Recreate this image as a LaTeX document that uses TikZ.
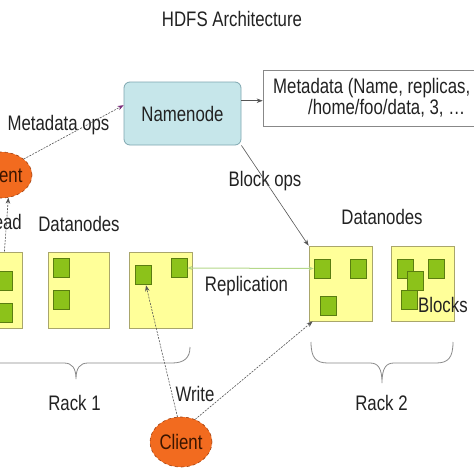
\documentclass[tikz,border=0pt]{standalone}
\usepackage{fontspec}
\setmainfont{Liberation Sans}[FakeStretch=0.8]
\usetikzlibrary{arrows.meta,calc,shapes.geometric}
\definecolor{nnfill}{HTML}{C6E6EA}
\definecolor{nndraw}{HTML}{7FA7B0}
\definecolor{dnfill}{HTML}{FFFF99}
\definecolor{dndraw}{HTML}{A9A66B}
\definecolor{blkfill}{HTML}{8CC21A}
\definecolor{blkdraw}{HTML}{5A7D10}
\definecolor{clfill}{HTML}{F26B1F}
\definecolor{cldraw}{HTML}{A04010}
\definecolor{cltext}{HTML}{3B1500}
\definecolor{txt}{HTML}{222222}
\definecolor{lnk}{HTML}{555555}
\definecolor{repl}{HTML}{B5D88A}
\definecolor{tipmag}{HTML}{7B2D7B}
\definecolor{brc}{HTML}{8A8A8A}
\begin{document}
\begin{tikzpicture}[x=1pt,y=-1pt,
  font=\fontsize{21}{25}\selectfont, text=txt,
  lbl/.style={inner sep=0pt, anchor=base},
  namebox/.style={draw=nndraw, fill=nnfill, rounded corners=6pt, line width=0.8pt,
    minimum width=117pt, minimum height=63pt, inner sep=0pt},
  metabox/.style={draw=lnk!70, fill=white, line width=0.7pt, inner sep=0pt,
    minimum width=227pt, minimum height=56pt},
  dnbox/.style={draw=dndraw, fill=dnfill, line width=0.8pt, inner sep=0pt,
    minimum height=76pt},
  blk/.style={draw=blkdraw, fill=blkfill, line width=0.7pt, inner sep=0pt,
    minimum width=16pt, minimum height=19pt},
  client/.style={ellipse, draw=cldraw, dashed, fill=clfill, line width=0.6pt,
    inner sep=0pt, minimum width=62pt, text=cltext},
  link/.style={draw=lnk, line width=0.6pt, dash pattern=on 2pt off 1.2pt},
  solidlink/.style={draw=lnk, line width=0.6pt},
  tip/.style={-{Stealth[length=6pt,width=4.5pt]}},
  replline/.style={draw=repl, line width=1pt,
    {Stealth[length=5pt,width=4pt]}-{Stealth[length=5pt,width=4pt]}},
  bracepath/.style={draw=brc, line width=0.8pt}
]
\path[use as bounding box] (0,0) rectangle (474,474);
\clip (0,0) rectangle (474,474);
\fill[white] (0,0) rectangle (474,474);

% title
\node[lbl] (title) at (232,26) {HDFS Architecture};

% namenode and metadata
\node[namebox] (nn) at (182.5,113.5) {Namenode};
\node[metabox] (mb) at (376.5,98) {};
\node[lbl, anchor=base west] (mt1) at (273,93) {Metadata (Name, replicas,};
\node[lbl, anchor=base west] (mt2) at (308,114) {/home/foo/data, 3, \dots};
\coordinate (nnout) at ($(nn.north east)!0.3!(nn.south east)$);
\draw[solidlink, tip] (nnout) -- (mb.west |- nnout);

% clients
\node[client, minimum height=46pt] (cl2) at (1,175) {Client};
\node[client, minimum height=50pt] (cl) at (181,442) {Client};

% datanodes
\node[dnbox, minimum width=63pt] (dA) at (-9.5,290) {};
\node[dnbox, minimum width=61pt] (dB) at (78.5,290) {};
\node[dnbox, minimum width=63pt] (dC) at (160.5,290) {};
\node[dnbox, minimum width=63pt, minimum height=75pt] (dD) at (340.5,283.5) {};
\node[dnbox, minimum width=63pt, minimum height=75pt] (dE) at (422.5,283.5) {};

% blocks
\node[blk] (a1) at (4,280.5) {};
\node[blk] (a2) at (4,312.5) {};
\node[blk] (b1) at (61,268) {};
\node[blk] (b2) at (61,300) {};
\node[blk] (c1) at (143,274.5) {};
\node[blk] (c2) at (179,268) {};
\node[blk] (d1) at (322,268.5) {};
\node[blk] (d2) at (358.5,268.5) {};
\node[blk] (d3) at (328,306) {};
\node[blk] (e1) at (405,268.5) {};
\node[blk] (e2) at (436,268.5) {};
\node[blk] (e3) at (415.5,280.5) {};
\node[blk] (e4) at (409.5,300) {};

% labels
\node[lbl] (lmo) at (58.5,130) {Metadata ops};
\node[lbl] (ldn1) at (79,231) {Datanodes};
\node[lbl, anchor=base east] (lread) at (22,229) {Read};
\node[lbl] (lbo) at (265,186) {Block ops};
\node[lbl] (ldn2) at (382,224) {Datanodes};
\node[lbl] (lrep) at (246.5,291) {Replication};
\node[lbl, anchor=base west] (lblk) at (418,312) {Blocks};
\node[lbl] (lwr) at (195,401) {Write};
\node[lbl] (lr1) at (74.5,410) {Rack 1};
\node[lbl] (lr2) at (381.5,410) {Rack 2};

% connectors
\draw[link, -{Stealth[length=6pt,width=4.5pt,color=tipmag]}] (cl2.35) -- (nn.172);
\draw[link, tip] ($(dA.north east)+(-18,0)$) -- (cl2.-72);
\draw[solidlink, tip] (nn.south east) -- (dD.north west);
\draw[replline] (c2.east) -- (d1.west);
\draw[link, tip] (cl.98) -- ($(c1.south)+(3,1)$);
\draw[link, tip] (cl.58) -- ($(dD.south west)+(4,0)$);

% braces
\draw[bracepath] (-38,347) .. controls (-38,358) and (-32,363) .. (-20,363) -- (64,363)
  .. controls (72,363) and (76,368) .. (76,379)
  .. controls (76,368) and (80,363) .. (88,363) -- (172,363)
  .. controls (184,363) and (190,358) .. (190,347);
\draw[bracepath] (311,342) .. controls (311,358) and (316,363) .. (328,363) -- (370,363)
  .. controls (378,363) and (382,368) .. (382,383)
  .. controls (382,368) and (386,363) .. (394,363) -- (436,363)
  .. controls (448,363) and (453,358) .. (453,342);
\end{tikzpicture}
\end{document}
